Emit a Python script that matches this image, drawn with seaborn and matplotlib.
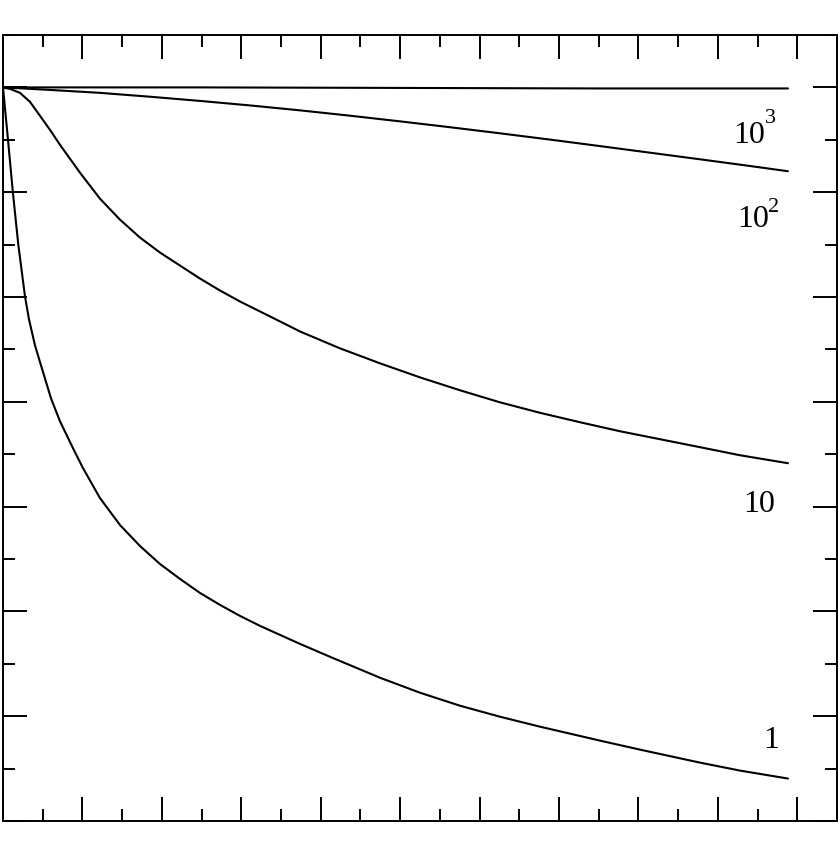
import numpy as np
import pandas as pd
import matplotlib
matplotlib.use("Agg")
import matplotlib.pyplot as plt
import seaborn as sns
from matplotlib.ticker import MultipleLocator

# ---- data ----
x_p1 = [0.0, 0.0629, 0.1234, 0.1926, 0.2770, 0.3273, 0.4029, 0.4973, 0.6043, 0.7176,
        0.8813, 1.0072, 1.2212, 1.4730, 1.7248, 1.9766, 2.2284, 2.4802, 2.7320, 2.9838,
        3.2355, 3.4873, 3.7391, 4.1168, 4.7464, 5.2499, 5.7535, 6.2571, 6.7607, 7.5161,
        8.0197, 8.7750, 9.2786, 9.8829]
y_p1 = [1.0, 0.9500, 0.9005, 0.8500, 0.8005, 0.7786, 0.7538, 0.7300, 0.7033, 0.6814,
        0.6557, 0.6367, 0.6081, 0.5824, 0.5624, 0.5452, 0.5310, 0.5176, 0.5062, 0.4957,
        0.4862, 0.4776, 0.4690, 0.4567, 0.4367, 0.4224, 0.4100, 0.3995, 0.3900, 0.3767,
        0.3681, 0.3557, 0.3481, 0.3405]

x_p10 = [0.0, 0.0252, 0.0881, 0.2140, 0.3399, 0.4658, 0.5917, 0.7176, 0.8435, 0.9694,
         1.0953, 1.2212, 1.4730, 1.7248, 1.9766, 2.2284, 2.4802, 2.7320, 2.9838, 3.2355,
         3.4873, 3.7391, 4.2427, 4.7464, 5.2499, 5.7535, 6.2571, 6.7607, 7.2642, 7.7678,
         8.2714, 8.7750, 9.2786, 9.8829]
y_p10 = [1.0, 0.9995, 0.9986, 0.9948, 0.9862, 0.9729, 0.9595, 0.9452, 0.9319, 0.9186,
         0.9062, 0.8938, 0.8738, 0.8567, 0.8424, 0.8300, 0.8176, 0.8062, 0.7957, 0.7862,
         0.7767, 0.7671, 0.7510, 0.7367, 0.7233, 0.7110, 0.6995, 0.6895, 0.6805, 0.6719,
         0.6643, 0.6567, 0.6490, 0.6414]

x_p100 = [0.0, 0.5917, 1.2212, 1.8507, 2.4802, 3.1097, 3.7391, 4.3686, 4.9981, 5.6276,
          6.2571, 6.8866, 7.5161, 8.1455, 8.7750, 9.4045, 9.8829]
y_p100 = [1.0, 0.9976, 0.9948, 0.9911, 0.9871, 0.9828, 0.9781, 0.9730, 0.9676, 0.9620,
          0.9562, 0.9502, 0.9440, 0.9377, 0.9314, 0.9250, 0.9200]

x_p1000 = [0.0, 2.5, 5.0, 7.5, 9.883]
y_p1000 = [1.0, 1.0, 0.9995, 0.999, 0.999]

label_base = ["1", "10", "10", "10"]
label_exp = ["", "", "2", "3"]

frames = []
for name, xs, ys in [("1", x_p1, y_p1), ("10", x_p10, y_p10),
                     ("100", x_p100, y_p100), ("1000", x_p1000, y_p1000)]:
    frames.append(pd.DataFrame({"x": xs, "y": ys, "series": name}))
df = pd.concat(frames, ignore_index=True)

sns.set_theme(style="white")
plt.rcParams["font.family"] = ["Liberation Serif", "DejaVu Serif"]

fig = plt.figure(figsize=(8.4, 8.59), dpi=100)
ax = fig.add_axes([3 / 840, 38 / 859, 834 / 840, 786 / 859])

sns.lineplot(data=df, x="x", y="y", hue="series",
             palette={"1": "black", "10": "black", "100": "black", "1000": "black"},
             estimator=None, sort=False, legend=False, linewidth=1.5, ax=ax)
for ln in ax.lines:
    ln.set_solid_joinstyle("round")
    ln.set_solid_capstyle("round")

ax.set_xlim(0, 10.5)
ax.set_ylim(0.3, 1.05)
ax.xaxis.set_major_locator(MultipleLocator(1))
ax.xaxis.set_minor_locator(MultipleLocator(0.5))
ax.yaxis.set_major_locator(MultipleLocator(0.1))
ax.yaxis.set_minor_locator(MultipleLocator(0.05))
ax.tick_params(which="both", direction="in", top=True, right=True, bottom=True, left=True,
               labelbottom=False, labelleft=False, color="black", width=1.4)
ax.tick_params(which="major", length=17)
ax.tick_params(which="minor", length=8.5)
ax.set_xlabel("")
ax.set_ylabel("")
for s in ax.spines.values():
    s.set_color("black")
    s.set_linewidth(1.4)
    s.set_visible(True)

# curve labels (base text + raised exponent)
base_pos = [(9.57, 0.370), (9.32, 0.595), (9.24, 0.867), (9.19, 0.947)]
exp_pos = [None, None, (9.63, 0.8814), (9.593, 0.966)]
for b, e, bp, ep in zip(label_base, label_exp, base_pos, exp_pos):
    ax.text(bp[0], bp[1], b, fontsize=23, ha="left", va="baseline", color="black")
    if e:
        ax.text(ep[0], ep[1], e, fontsize=16, ha="left", va="baseline", color="black")

fig.savefig("out.png", dpi=100, facecolor="white")
